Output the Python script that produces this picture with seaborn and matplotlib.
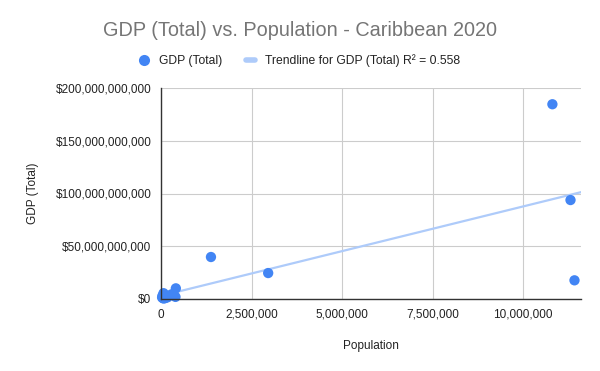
import numpy as np
import pandas as pd
import matplotlib
matplotlib.use("Agg")
import matplotlib.pyplot as plt
import seaborn as sns
from matplotlib.ticker import FuncFormatter
from matplotlib.lines import Line2D

# population and GDP (USD)
population = [10810000, 11310000, 11420000, 1380000, 2960000, 410000,
              290000, 180000, 110000, 110000, 100000, 70000, 50000,
              110000, 160000, 70000, 40000, 30000, 350000, 400000]
gdp_total = [184.6e9, 93.8e9, 17.7e9, 39.8e9, 24.6e9, 10.1e9,
             4.4e9, 1.6e9, 1.0e9, 0.8e9, 1.4e9, 0.5e9, 0.9e9,
             2.5e9, 2.9e9, 5.5e9, 3.0e9, 1.5e9, 3.5e9, 2.0e9]
r_squared = 0.558

title = "GDP (Total) vs. Population - Caribbean 2020"
x_ticks = [0, 2500000, 5000000, 7500000, 10000000]
y_ticks = [0, 50e9, 100e9, 150e9, 200e9]

df = pd.DataFrame({"Population": population, "GDP (Total)": gdp_total})

sns.set_style("white")
plt.rcParams['font.family'] = ['Liberation Sans', 'DejaVu Sans']

point_color = "#4285f4"
trend_color = "#aecbfa"

fig = plt.figure(figsize=(6, 3.71), dpi=100)
ax = fig.add_axes([161 / 600, 1 - 299 / 371, 420 / 600, 211 / 371])
ax.set_xlim(0, 11600000)
ax.set_ylim(0, 200e9)

# trendline (linear fit across the whole x range)
sns.regplot(data=df, x="Population", y="GDP (Total)", ax=ax, scatter=False,
            ci=None, truncate=False, color=trend_color,
            line_kws={"linewidth": 1.6, "zorder": 2})
sns.scatterplot(data=df, x="Population", y="GDP (Total)", ax=ax,
                color=point_color, s=55, edgecolor="none", zorder=3, clip_on=False)

ax.set_xlim(0, 11600000)
ax.set_ylim(0, 200e9)
ax.set_xticks(x_ticks)
ax.set_yticks(y_ticks)
ax.xaxis.set_major_formatter(FuncFormatter(lambda v, p: f"{int(v):,}"))
ax.yaxis.set_major_formatter(FuncFormatter(lambda v, p: f"${int(v):,}"))
ax.grid(True, color="#cccccc", linewidth=0.8)
ax.set_axisbelow(True)
for s in ["top", "right"]:
    ax.spines[s].set_visible(False)
for s in ["left", "bottom"]:
    ax.spines[s].set_color("#333333")
    ax.spines[s].set_linewidth(1)
    ax.spines[s].set_zorder(4)
ax.tick_params(axis="y", length=5, color="#cccccc", labelsize=8.5, labelcolor="#222222", pad=2)
ax.tick_params(axis="x", length=0, labelsize=8.5, labelcolor="#222222", pad=7)

ax.set_xlabel("Population", fontsize=8.5, color="#222222", labelpad=14)
ax.set_ylabel("GDP (Total)", fontsize=8.5, color="#222222", labelpad=12)

fig.text(0.5, 1 - 30 / 371, title, ha="center", va="center",
         fontsize=14.3, color="#757575")

handles = [
    Line2D([], [], marker="o", linestyle="none", markersize=8,
           markerfacecolor=point_color, markeredgecolor="none"),
    Line2D([], [], color=trend_color, linewidth=4),
]
labels = ["GDP (Total)", f"Trendline for GDP (Total) R\u00b2 = {r_squared}"]
fig.legend(handles, labels, loc="center", bbox_to_anchor=(0.5, 1 - 61 / 371),
           ncol=2, frameon=False, fontsize=8.7, handlelength=0.7,
           columnspacing=2.0, handletextpad=0.9, labelcolor="#222222")

fig.savefig("out.png", dpi=100)
